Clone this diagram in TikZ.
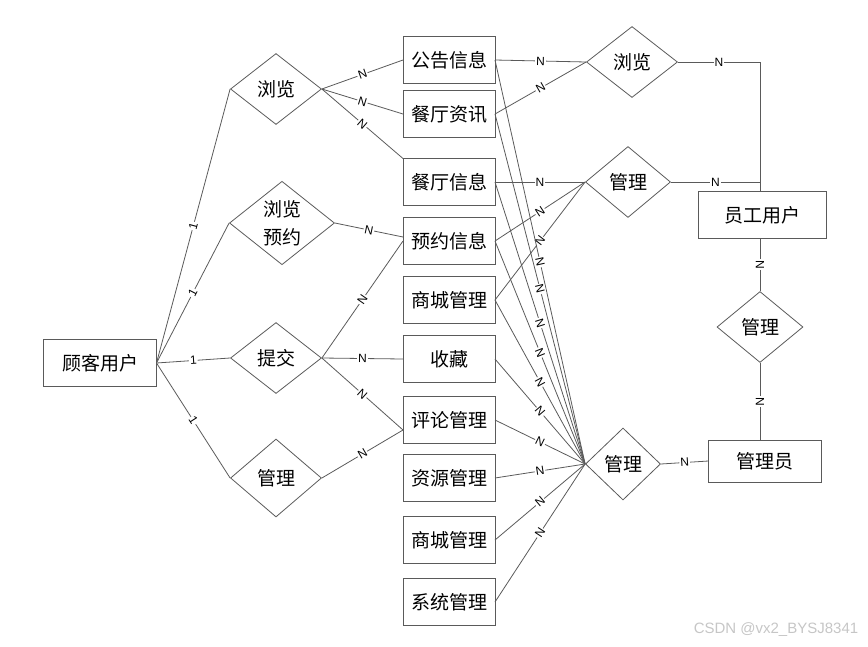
\documentclass[tikz,border=0pt]{standalone}
\usepackage{fontspec}
\usepackage{tikz}
\usetikzlibrary{positioning,shapes.geometric}
\newfontfamily\cjk{Noto Sans CJK SC}
\newfontfamily\lat{Liberation Sans}
\definecolor{edge}{HTML}{5A5A5A}

\begin{document}
\begin{tikzpicture}[x=1pt,y=-1pt,
  node distance=12pt,
  ent/.style={draw=edge,line width=0.8pt,rectangle,minimum width=92pt,minimum height=47pt,inner sep=2pt,outer sep=0pt,font=\cjk\fontsize{19}{22}\selectfont},
  rel/.style={draw=edge,line width=0.8pt,diamond,minimum width=91pt,minimum height=71pt,inner sep=0pt,align=center,font=\cjk\fontsize{19}{22}\selectfont},
  lbl/.style={midway,sloped,fill=white,inner sep=1pt,font=\lat\fontsize{12}{12}\selectfont},
  con/.style={draw=edge,line width=0.8pt}]
  \useasboundingbox (0,0) rectangle (868,646);
  \node[ent,minimum width=113pt] (kh) at (100,363) {顾客用户};
  \node[rel] (d1) at (276,89) {浏览};
  \node[rel,minimum width=105pt,minimum height=81pt] (d2) at (282,223) {浏览\\[6pt]预约};
  \node[rel] (d3) at (276,358) {提交};
  \node[rel,minimum height=78pt] (d4) at (276,478) {管理};
  \node[ent] (b1) at (449,60) {公告信息};
  \node[ent] (b2) [below=7pt of b1] {餐厅资讯};
  \node[ent] (b3) [below=21pt of b2] {餐厅信息};
  \node[ent] (b4) [below=of b3] {预约信息};
  \node[ent] (b5) [below=of b4] {商城管理};
  \node[ent] (b6) [below=of b5] {收藏};
  \node[ent] (b7) [below=14pt of b6] {评论管理};
  \node[ent] (b8) [below=11pt of b7] {资源管理};
  \node[ent] (b9) [below=15pt of b8] {商城管理};
  \node[ent] (b10) [below=15pt of b9] {系统管理};
  \node[rel] (r1) at (632,62) {浏览};
  \node[rel,minimum width=85pt] (r2) at (628,182) {管理};
  \node[ent,minimum width=128pt] (yg) at (762,215) {员工用户};
  \node[rel,minimum width=86pt] (r3) at (760,327) {管理};
  \node[ent,minimum width=113pt,minimum height=42pt] (gly) at (765,461) {管理员};
  \node[rel,minimum width=75pt,minimum height=72pt] (r4) at (623,464) {管理};
  \node[font=\lat\fontsize{15}{15}\selectfont,text=gray!45] (wm) at (776,630) {CSDN @vx2\_BYSJ8341};
  \draw[con] (kh.east) -- node[lbl]{1} (d1.west);
  \draw[con] (kh.east) -- node[lbl]{1} (d2.west);
  \draw[con] (kh.east) -- node[lbl]{1} (d3.west);
  \draw[con] (kh.east) -- node[lbl]{1} (d4.west);
  \draw[con] (d1.east) -- node[lbl]{N} (b1.west);
  \draw[con] (d1.east) -- node[lbl]{N} (b2.west);
  \draw[con] (d1.east) -- node[lbl]{N} (b3.north west);
  \draw[con] (d2.east) -- node[lbl]{N} ([yshift=4pt]b4.west);
  \draw[con] (d3.east) -- node[lbl]{N} (b4.west);
  \draw[con] (d3.east) -- node[lbl]{N} (b6.west);
  \draw[con] (d3.east) -- node[lbl]{N} ([yshift=-10pt]b7.west);
  \draw[con] (d4.east) -- node[lbl]{N} ([yshift=-10pt]b7.west);
  \draw[con] (b1.east) -- node[lbl]{N} (r1.west);
  \draw[con] (b2.east) -- node[lbl]{N} (r1.west);
  \draw[con] (b3.east) -- node[lbl]{N} (r2.west);
  \draw[con] (b4.east) -- node[lbl]{N} (r2.west);
  \draw[con] (b5.east) -- node[lbl]{N} (r2.west);
  \draw[con] (r1.east) -- node[lbl]{N} (r1.east -| r3.north) -- (r3.north |- yg.north);
  \draw[con] (r2.east) -- node[lbl]{N} (r2.east -| r3.north);
  \draw[con] (r3.north |- yg.south) -- node[lbl]{N} (r3.north);
  \draw[con] (r3.south) -- node[lbl]{N} (r3.south |- gly.north);
  \draw[con] (gly.west) -- node[lbl]{N} (r4.east);
  \draw[con] (b1.east) -- node[lbl]{N} (r4.west);
  \draw[con] (b2.east) -- node[lbl]{N} (r4.west);
  \draw[con] (b3.east) -- node[lbl]{N} (r4.west);
  \draw[con] (b4.east) -- node[lbl]{N} (r4.west);
  \draw[con] (b5.east) -- node[lbl]{N} (r4.west);
  \draw[con] (b6.east) -- node[lbl]{N} (r4.west);
  \draw[con] (b7.east) -- node[lbl]{N} (r4.west);
  \draw[con] (b8.east) -- node[lbl]{N} (r4.west);
  \draw[con] (b9.east) -- node[lbl]{N} (r4.west);
  \draw[con] (b10.east) -- node[lbl]{N} (r4.west);
\end{tikzpicture}
\end{document}
